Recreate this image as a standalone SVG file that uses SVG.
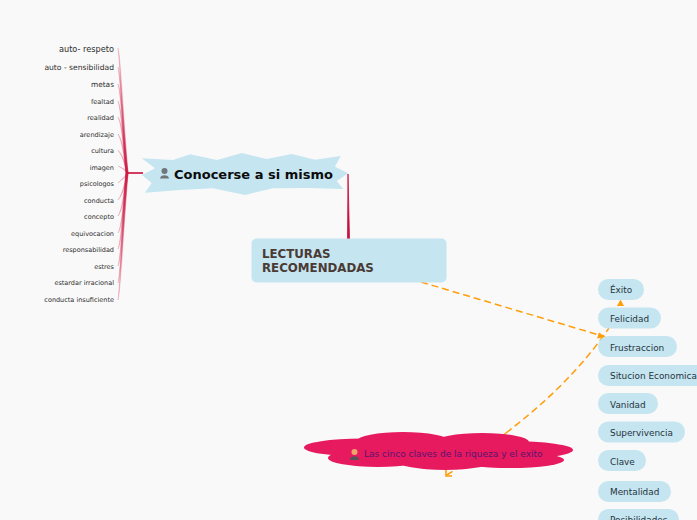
<svg xmlns="http://www.w3.org/2000/svg" width="697" height="520" viewBox="0 0 697 520">
<style>
text{font-family:"DejaVu Sans",Verdana,sans-serif}
.l{text-anchor:end;fill:#2e2e2e}
.b{fill:#c5e5f1}
.t{font-size:8.900px;fill:#26343c}
.s{fill:#cf1a45;stroke:#cf1a45;stroke-width:.4;opacity:.42}
.o{fill:none;stroke:#ff9d0a;stroke-width:1.5;stroke-dasharray:7 4}
.h{fill:#ff9d0a}
</style>
<rect width="697" height="520" fill="#f9f9f9"/>
<g id="connectors">
<path d="M348 174L349.500 239H347.500Z" fill="#c8103e" stroke="#c8103e" stroke-width=".8"/>
<path d="M127 173H143" stroke="#c8103e" stroke-width="1.6" fill="none"/>
<path class="s" d="M126 173C122 112 119.500 58 118 48C120.500 58 123.200 112 128 173Z"/>
<path class="s" d="M126 173C122.500 125 120 76 118 67C121 76 123.700 125 128 173Z"/>
<path class="s" d="M126 173C122.800 132 120.500 92 118 84C121.500 92 124 132 128 173Z"/>
<path class="s" d="M126 173C123 142 121 110 118 101C122 110 124.200 142 128 173Z"/>
<path class="s" d="M126 173C123.300 150 122 125 118 117C123 125 124.500 150 128 173Z"/>
<path class="s" d="M126 173C124 158 122.500 142 118 134C123.500 142 125.200 158 128 173Z"/>
<path class="s" d="M126 173C125 165 123 157 118 150C124 157 126.200 165 128 173Z"/>
<path class="s" d="M126 173C126 171 124 169 118 166C125 169 127.200 171 128 173Z"/>
<path class="s" d="M126 173C126 176 124 177 118 183C125 177 127.200 176 128 173Z"/>
<path class="s" d="M126 173C125 182 123 193 118 200C124 193 126.200 182 128 173Z"/>
<path class="s" d="M126 173C124 190 122.500 209 118 216C123.500 209 125.200 190 128 173Z"/>
<path class="s" d="M126 173C123.500 198 122 226 118 233C123 226 124.700 198 128 173Z"/>
<path class="s" d="M126 173C123 206 121 242 118 249C122 242 124.200 206 128 173Z"/>
<path class="s" d="M126 173C122.800 216 120.500 258 118 266C121.500 258 124 216 128 173Z"/>
<path class="s" d="M126 173C122.500 226 120 275 118 283C121 275 123.700 226 128 173Z"/>
<path class="s" d="M126 173C122 236 119.500 291 118 300C120.500 291 123.200 236 128 173Z"/>
<path class="o" d="M421 282L604 336.500"/>
<path class="h" d="M606 337L597 338.500L599 332.500Z"/>
<path class="o" d="M506 433C545 403 580 370 609 328"/>
<path class="o" d="M506 433C490 446 470 460 447 475"/>
<path d="M446 470L446 476L452 476" fill="none" stroke="#ff9d0a" stroke-width="1.6"/>
<path class="o" d="M609 326L619 304" stroke-dasharray="4 3"/>
<path class="h" d="M620.500 299.500L624 306L617 306Z"/>
</g>
<g id="n-center"><rect class="b" x="251.500" y="238.500" width="195" height="44" rx="5"/>
<text x="262" y="258" font-size="11.800" font-weight="700" fill="#4a3a34">LECTURAS</text>
<text x="262" y="272" font-size="11.800" font-weight="700" fill="#4a3a34">RECOMENDADAS</text></g>
<g id="n-conocerse"><polygon class="b" points="141.700,158.300 173,160 190,154.300 217,160 241.700,153 266.700,159 291.700,154 315,159.700 340.700,156 335,166.700 348.300,173.300 336.700,181 343.300,189 307,188 273,188.300 245,195 213,188.300 180,190 145,192.700 151.700,183 142,175 155,168.300"/>
<g fill="#70767a"><circle cx="164.500" cy="171" r="3"/><path d="M160 178.500C160 174 169 174 169 178.500Z"/></g>
<text x="174" y="179" font-size="13" font-weight="700" fill="#0c0c0c">Conocerse a si mismo</text></g>
<g id="n-claves"><g fill="#e7195f"><ellipse cx="362" cy="447.500" rx="58" ry="9"/><ellipse cx="403" cy="441" rx="46" ry="9"/><ellipse cx="482" cy="442" rx="47" ry="9"/><ellipse cx="510" cy="450" rx="63" ry="9"/><ellipse cx="378" cy="458" rx="50" ry="9"/><ellipse cx="510" cy="460" rx="54" ry="8"/><ellipse cx="445" cy="461" rx="48" ry="9"/><rect x="350" y="440" width="170" height="20"/></g>
<circle cx="354.500" cy="452" r="3" fill="#eea56c"/><path d="M350 460C350 455 359 455 359 460Z" fill="#555"/>
<text x="364" y="457" font-size="9" fill="#5a1670">Las cinco claves de la riqueza y el exito</text></g>
<g id="n-exito"><rect class="b" x="598" y="279" width="46" height="21" rx="10.500"/><text class="t" x="610" y="293">Éxito</text></g>
<g id="n-felicidad"><rect class="b" x="598" y="307.500" width="63" height="21" rx="10.500"/><text class="t" x="610" y="322">Felicidad</text></g>
<g id="n-frustraccion"><rect class="b" x="598" y="336" width="79" height="21" rx="10.500"/><text class="t" x="610" y="350.500">Frustraccion</text></g>
<g id="n-situcion"><rect class="b" x="598" y="365" width="110" height="21" rx="10.500"/><text class="t" x="610" y="379">Situcion Economica</text></g>
<g id="n-vanidad"><rect class="b" x="598" y="393" width="60" height="21" rx="10.500"/><text class="t" x="610" y="407.500">Vanidad</text></g>
<g id="n-supervivencia"><rect class="b" x="598" y="421.500" width="87" height="21" rx="10.500"/><text class="t" x="610" y="436">Supervivencia</text></g>
<g id="n-clave"><rect class="b" x="598" y="450" width="48" height="21" rx="10.500"/><text class="t" x="610" y="465">Clave</text></g>
<g id="n-mentalidad"><rect class="b" x="598" y="481" width="73" height="21" rx="10.500"/><text class="t" x="610" y="495">Mentalidad</text></g>
<g id="n-posibilidades"><rect class="b" x="598" y="509" width="81" height="21" rx="10.500"/><text class="t" x="610" y="523">Posibilidades</text></g>
<g id="leaves">
<text class="l" x="114" y="52" font-size="8.200">auto- respeto</text>
<text class="l" x="114" y="70" font-size="7.600">auto - sensibilidad</text>
<text class="l" x="114" y="87" font-size="7.400">metas</text>
<text class="l" x="114" y="104" font-size="6.600">fealtad</text>
<text class="l" x="114" y="120" font-size="6.600">realidad</text>
<text class="l" x="114" y="137" font-size="6.600">arendizaje</text>
<text class="l" x="114" y="153" font-size="6.500">cultura</text>
<text class="l" x="114" y="170" font-size="6.500">imagen</text>
<text class="l" x="114" y="186" font-size="6.500">psicologos</text>
<text class="l" x="114" y="203" font-size="6.500">conducta</text>
<text class="l" x="114" y="219" font-size="6.500">concepto</text>
<text class="l" x="114" y="236" font-size="6.500">equivocacion</text>
<text class="l" x="114" y="252" font-size="6.500">responsabilidad</text>
<text class="l" x="114" y="269" font-size="6.500">estres</text>
<text class="l" x="114" y="285" font-size="6.500">estardar irracional</text>
<text class="l" x="114" y="302" font-size="6.500">conducta insuficiente</text>
</g>
</svg>
